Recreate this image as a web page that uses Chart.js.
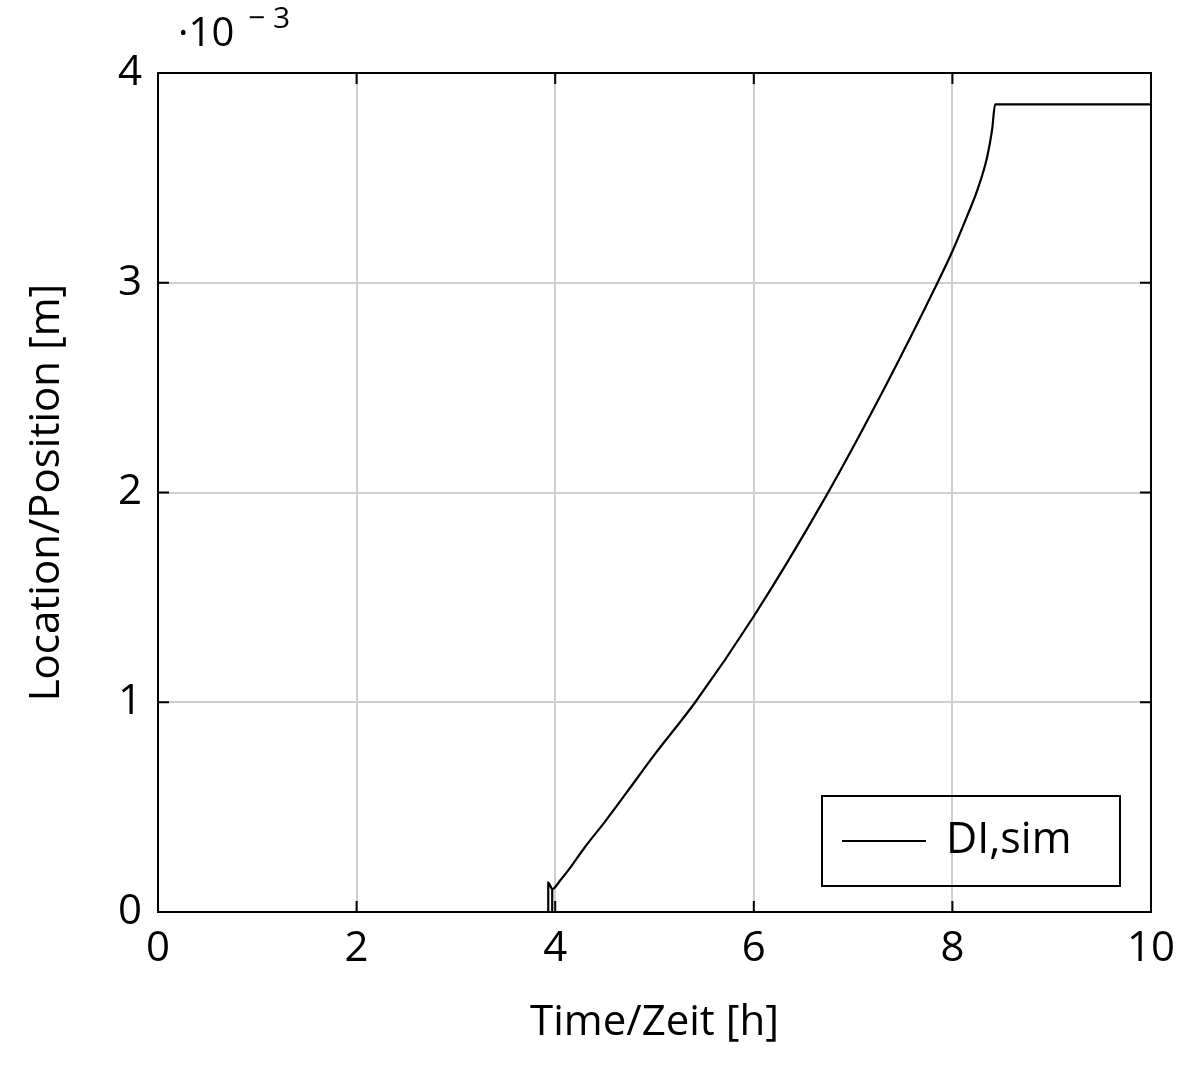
<!DOCTYPE html>
<html>
<head>
<meta charset="utf-8">
<script src="https://cdn.jsdelivr.net/npm/chart.js@4"></script>
<style>
  html, body { margin: 0; padding: 0; background: #fff; }
  #wrap { width: 1200px; height: 1078px; }
</style>
</head>
<body>
<div id="wrap"><canvas id="chart"></canvas></div>
<script>
// time in hours, position in 1e-3 m
const timeH = [0, 3.93, 3.93, 3.97, 3.97, 3.97, 3.99, 4.05, 4.15, 4.3, 4.5, 4.72, 5.0, 5.41, 6.0, 6.7, 7.34, 7.85, 8.0, 8.15, 8.25, 8.35, 8.4, 8.43, 10];
const posMm = [0, 0, 0.14, 0.11, 0, 0.11, 0.114, 0.15, 0.21, 0.31, 0.43, 0.57, 0.75, 1.0, 1.41, 1.96, 2.52, 3.0, 3.15, 3.32, 3.44, 3.6, 3.73, 3.85, 3.85];
const xTicks = [0, 2, 4, 6, 8, 10];
const yTicks = [0, 1, 2, 3, 4];
const seriesLabel = "DI,sim";

const FONT = "'Open Sans', 'DejaVu Sans', sans-serif";

const points = timeH.map((t, i) => ({ x: t, y: posMm[i] }));

const frame = {
    id: "frame",
    afterDraw(chart) {
        const { ctx, chartArea: a, scales } = chart;
        ctx.save();
        ctx.strokeStyle = "#000";
        ctx.lineWidth = 2;
        ctx.strokeRect(a.left, a.top, a.right - a.left, a.bottom - a.top);
        ctx.beginPath();
        xTicks.forEach(v => {
            const px = scales.x.getPixelForValue(v);
            ctx.moveTo(px, a.bottom); ctx.lineTo(px, a.bottom - 11);
            ctx.moveTo(px, a.top); ctx.lineTo(px, a.top + 11);
        });
        yTicks.forEach(v => {
            const py = scales.y.getPixelForValue(v);
            ctx.moveTo(a.left, py); ctx.lineTo(a.left + 11, py);
            ctx.moveTo(a.right, py); ctx.lineTo(a.right - 11, py);
        });
        ctx.stroke();

        // exponent label
        ctx.fillStyle = "#000";
        ctx.font = "40px " + FONT;
        ctx.textBaseline = "alphabetic";
        ctx.fillText("\u00b710", 178, 46);
        ctx.font = "30px " + FONT;
        ctx.fillText("\u2212 3", 248, 28);

        // legend box
        ctx.lineWidth = 2;
        ctx.strokeRect(822, 796, 298, 90);
        ctx.beginPath();
        ctx.moveTo(842, 841); ctx.lineTo(926, 841);
        ctx.stroke();
        ctx.font = "43px " + FONT;
        ctx.textBaseline = "middle";
        ctx.fillText(seriesLabel, 946, 841);
        ctx.restore();
    }
};

new Chart(document.getElementById("chart"), {
    type: "line",
    data: {
        datasets: [{
            label: seriesLabel,
            data: points,
            borderColor: "#000",
            borderWidth: 2.2,
            pointRadius: 0,
            tension: 0.3,
            cubicInterpolationMode: "monotone",
            fill: false
        }]
    },
    options: {
        responsive: true,
        maintainAspectRatio: false,
        animation: false,
        layout: { padding: { top: 73, right: 49, left: 22, bottom: 30 } },
        plugins: { legend: { display: false }, tooltip: { enabled: false } },
        scales: {
            x: {
                type: "linear",
                min: 0, max: 10,
                afterBuildTicks: s => { s.ticks = xTicks.map(v => ({ value: v })); },
                afterFit: s => { s.height = 136; },
                grid: { color: "#cfcfcf", lineWidth: 2, drawTicks: false },
                border: { display: false },
                ticks: { color: "#000", font: { family: FONT, size: 42 }, padding: 12 },
                title: { display: true, text: "Time/Zeit [h]", color: "#000", font: { family: FONT, size: 42 }, padding: 0 }
            },
            y: {
                min: 0, max: 4,
                afterBuildTicks: s => { s.ticks = yTicks.map(v => ({ value: v })); },
                afterFit: s => { s.width = 136; },
                grid: { color: "#cfcfcf", lineWidth: 2, drawTicks: false },
                border: { display: false },
                ticks: { color: "#000", font: { family: FONT, size: 42 }, padding: 16 },
                title: { display: true, text: "Location/Position [m]", color: "#000", font: { family: FONT, size: 42 }, padding: 0 }
            }
        }
    },
    plugins: [frame]
});
</script>
</body>
</html>
